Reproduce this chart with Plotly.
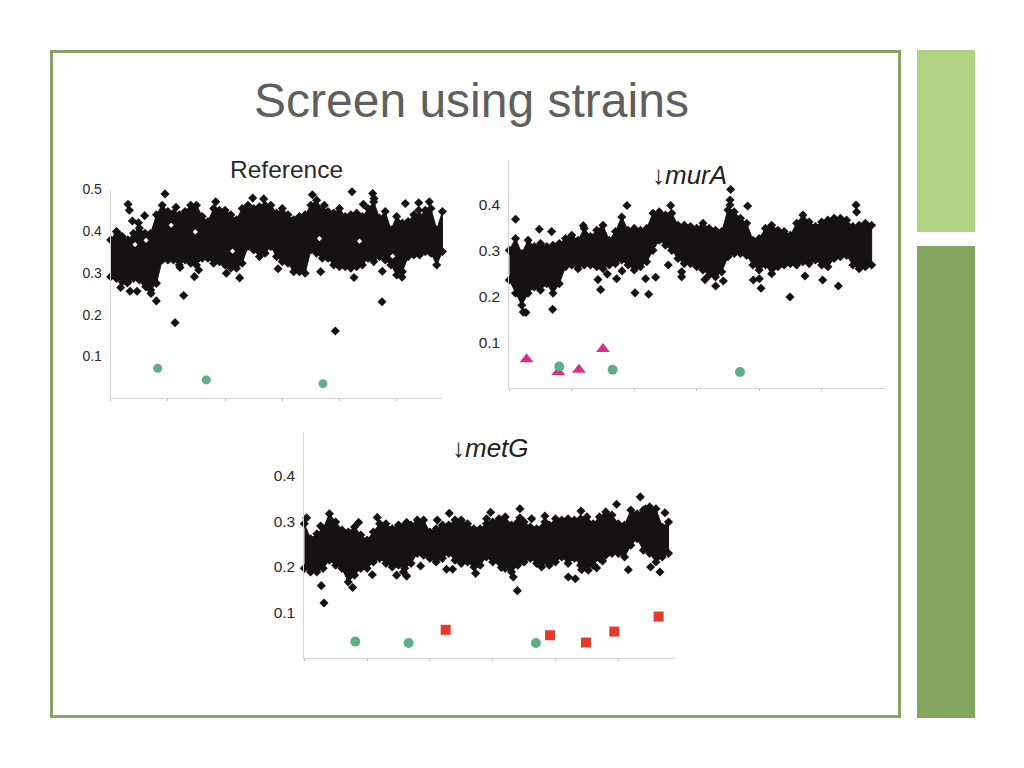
import plotly.graph_objects as go

W, H = 1024, 768

GRID = [0,100,200,300,400,500,600,700,800,900,1000,1100,1200,1300,1400,1500,1600,1700,1800,1900,
        2000,2100,2200,2300,2400,2500,2600,2700,2800,2900,3000,3100,3200,3300,3400,3500,3600,3700,3800,3900,
        4000,4100,4200,4300,4400,4500,4600,4700,4800,4900,5000,5100,5200,5300,5400,5500,5600,5700,5800]
XTICKS = [0,1000,2000,3000,4000,5000]

# Reference
ref_up = [.379,.399,.387,.379,.395,.407,.395,.395,.439,.462,.447,.443,.439,.447,.462,.462,.435,.423,.454,.45,
          .45,.439,.427,.454,.462,.454,.458,.462,.462,.443,.454,.439,.427,.435,.439,.462,.474,.45,.447,.443,
          .454,.435,.439,.443,.435,.454,.47,.431,.447,.403,.435,.419,.423,.439,.435,.45,.454,.403,.447]
ref_lo = [.291,.287,.279,.279,.287,.283,.275,.259,.275,.331,.331,.331,.319,.331,.323,.319,.335,.335,.323,.327,
          .319,.311,.311,.323,.363,.355,.339,.347,.363,.339,.327,.323,.303,.303,.299,.355,.347,.335,.335,.319,
          .315,.315,.311,.315,.319,.335,.327,.339,.331,.319,.295,.303,.339,.343,.343,.351,.347,.319,.351]
ref_out_x = [950,303,326,379,484,594,117,1142,1836,2483,2675,3526,4219,4580,4604,4417,3735,5152,5385,5385,5571,
             175,291,338,460,612,798,1125,1276,1463,1538,2022,2255,2925,3671,4254,3928,4744,4749,5093,705,1212]
ref_out_y = [.489,.464,.45,.424,.42,.437,.396,.457,.47,.479,.477,.487,.494,.49,.478,.464,.462,.466,.468,.45,.47,
             .265,.276,.256,.256,.267,.233,.181,.246,.291,.307,.299,.288,.31,.303,.289,.161,.231,.304,.29,.251,.313]
ref_hole_x = [618,425,1057,1480,2130,3650,4350,4930]
ref_hole_y = [.378,.368,.414,.398,.352,.382,.376,.340]
ref_green_x = [822,1672,3712]
ref_green_y = [.072,.044,.035]

# murA
mur_up = [.301,.327,.294,.323,.309,.316,.309,.312,.316,.327,.334,.323,.349,.331,.345,.356,.323,.342,.374,.345,
          .349,.345,.349,.382,.385,.378,.382,.356,.356,.353,.349,.36,.349,.345,.342,.389,.385,.371,.36,.323,
          .327,.349,.356,.345,.342,.334,.36,.378,.363,.353,.363,.367,.371,.371,.367,.353,.356,.36,.356]
mur_lo = [.236,.207,.181,.207,.221,.214,.228,.207,.228,.265,.269,.261,.269,.269,.265,.261,.269,.272,.28,.269,
          .258,.265,.276,.301,.323,.312,.301,.283,.272,.272,.265,.258,.247,.243,.254,.287,.294,.294,.29,.269,
          .258,.269,.25,.265,.269,.272,.269,.276,.272,.28,.269,.265,.283,.287,.29,.269,.261,.265,.269]
mur_out_x = [101,480,678,1185,1884,2583,3543,3533,3533,3815,5550,5560,224,267,694,1462,1419,2012,2231,2182,2343,
             2545,2759,2759,3303,3426,3132,3906,4002,4029,4493,5267,5016,4733,1569,1718,1804]
mur_out_y = [.369,.347,.342,.355,.399,.399,.434,.411,.4,.398,.4,.385,.166,.165,.172,.215,.237,.208,.205,.239,.242,
             .269,.254,.243,.223,.234,.237,.236,.239,.218,.199,.223,.236,.245,.249,.239,.256]
mur_tri_x = [277,784,1115,1499]
mur_tri_y = [.063,.035,.04,.085]
mur_green_x = [800,1654,3693]
mur_green_y = [.047,.04,.035]

# metG
met_up = [.295,.262,.273,.284,.317,.299,.281,.277,.288,.27,.259,.277,.295,.295,.284,.292,.292,.292,.303,.303,
          .277,.284,.292,.292,.303,.303,.295,.284,.284,.295,.299,.306,.31,.292,.299,.299,.288,.284,.288,.292,
          .306,.303,.306,.303,.306,.31,.295,.31,.321,.314,.295,.292,.325,.317,.325,.332,.328,.288,.299]
met_lo = [.197,.189,.189,.197,.215,.204,.197,.167,.182,.197,.197,.211,.219,.208,.2,.204,.197,.208,.23,.226,
          .219,.211,.219,.23,.215,.208,.211,.2,.204,.222,.211,.211,.197,.189,.204,.211,.219,.208,.211,.204,
          .211,.222,.208,.219,.204,.197,.204,.219,.226,.23,.23,.222,.248,.262,.237,.23,.211,.222,.23]
met_out_x = [37,260,865,1162,2309,2118,1630,2967,2903,3434,3434,3620,3832,3832,4406,4973,5350,5435,5743,271,313,
             770,1470,1630,1577,1852,2266,2362,2728,3137,3328,3392,3779,4204,4315,4416,4522,4655,4750,5159,5515,5663,1083]
met_out_y = [.308,.29,.298,.309,.318,.303,.298,.32,.306,.328,.308,.306,.312,.299,.323,.338,.354,.328,.319,.159,.121,
             .155,.182,.18,.189,.202,.195,.195,.186,.199,.178,.148,.2,.178,.174,.194,.193,.198,.213,.194,.2,.189,.183]
met_sq_x = [2251,3912,4485,4936,5642]
met_sq_y = [.062,.05,.034,.058,.091]
met_green_x = [812,1661,3689]
met_green_y = [.036,.033,.033]

TITLE = "Screen using strains"
NAMES = ["Reference", "↓<i>murA</i>", "↓<i>metG</i>"]
YT1 = [0.1,0.2,0.3,0.4,0.5]
YT2 = [0.1,0.2,0.3,0.4]

BLACK = "#141212"
GREEN = "#5fae86"
PINK = "#d5308c"
RED = "#e63b2a"
AXIS = "#d4d4d4"
FRAME = "#86a264"
LIGHT = "#b0d283"
DARK = "#84a55f"

fig = go.Figure()

def panel(n, up, lo, ox, oy, msize):
    xa, ya = f"x{n}", f"y{n}"
    fig.add_trace(go.Scatter(x=GRID + GRID[::-1], y=up + lo[::-1], mode="lines+markers", fill="toself",
                             fillcolor=BLACK, line=dict(color=BLACK, width=1),
                             marker=dict(symbol="diamond", size=msize, color=BLACK),
                             xaxis=xa, yaxis=ya, hoverinfo="skip", cliponaxis=False))
    fig.add_trace(go.Scatter(x=ox, y=oy, mode="markers",
                             marker=dict(symbol="diamond", size=msize, color=BLACK),
                             xaxis=xa, yaxis=ya, cliponaxis=False))

def special(n, x, y, sym, size, color):
    fig.add_trace(go.Scatter(x=x, y=y, mode="markers",
                             marker=dict(symbol=sym, size=size, color=color, line=dict(width=0)),
                             xaxis=f"x{n}", yaxis=f"y{n}", cliponaxis=False))

panel(1, ref_up, ref_lo, ref_out_x, ref_out_y, 7)
special(1, ref_hole_x, ref_hole_y, "diamond", 4, "white")
special(1, ref_green_x, ref_green_y, "circle", 9, GREEN)
panel(2, mur_up, mur_lo, mur_out_x, mur_out_y, 7)
special(2, mur_tri_x, mur_tri_y, "triangle-up", 12, PINK)
special(2, mur_green_x, mur_green_y, "circle", 10, GREEN)
panel(3, met_up, met_lo, met_out_x, met_out_y, 7)
special(3, met_green_x, met_green_y, "circle", 10, GREEN)
special(3, met_sq_x, met_sq_y, "square", 10, RED)

def axes(n, left, right, top, bottom, xmax, ymax, yt, fsize):
    fig.layout[f"xaxis{n if n > 1 else ''}"] = dict(
        domain=[left / W, right / W], range=[0, xmax], anchor=f"y{n}", showgrid=False, zeroline=False,
        automargin=False, showline=True, linecolor=AXIS, linewidth=1, tickvals=XTICKS,
        ticktext=[""] * len(XTICKS), ticks="outside", ticklen=2, tickcolor="#bbbbbb")
    fig.layout[f"yaxis{n if n > 1 else ''}"] = dict(
        domain=[1 - bottom / H, 1 - top / H], range=[0, ymax], anchor=f"x{n}", showgrid=False, zeroline=False,
        automargin=False, showline=True, linecolor=AXIS, linewidth=1, tickvals=yt,
        ticktext=[f"{v:.1f}" for v in yt], ticks="outside", ticklen=5, tickcolor="rgba(0,0,0,0)",
        tickfont=dict(family="Liberation Sans", size=fsize, color="#2a2a2a"))

axes(1, 110.7, 443, 189.3, 398.3, 5810, 0.5, YT1, 14)
axes(2, 509.3, 885, 160, 388, 6014, 0.4985, YT2, 15.5)
axes(3, 304.3, 675, 432, 658, 5903, 0.4966, YT2, 15.5)

def rect(x0, y0, x1, y1, **kw):
    return dict(type="rect", xref="paper", yref="paper", x0=x0 / W, x1=x1 / W,
                y0=1 - y0 / H, y1=1 - y1 / H, layer="below", **kw)

def label(text, x, y, size, color):
    return dict(text=text, x=x / W, y=1 - y / H, xref="paper", yref="paper", showarrow=False,
                xanchor="center", yanchor="middle",
                font=dict(family="Liberation Sans", size=size, color=color))

fig.update_layout(
    width=W, height=H, margin=dict(l=0, r=0, t=0, b=0), showlegend=False,
    paper_bgcolor="white", plot_bgcolor="rgba(0,0,0,0)",
    shapes=[
        rect(51.5, 51.5, 899.5, 716.5, line=dict(color=FRAME, width=3), fillcolor="white"),
        rect(917, 50, 975, 232, line=dict(width=0), fillcolor=LIGHT),
        rect(917, 246, 975, 718, line=dict(width=0), fillcolor=DARK),
    ],
    annotations=[
        label(TITLE, 471, 100, 48, "#5f5f5f"),
        label(NAMES[0], 286, 169, 24.5, "#2a2a2a"),
        label(NAMES[1], 689, 175, 26, "#222222"),
        label(NAMES[2], 490, 448, 26, "#222222"),
    ],
)

fig.write_html("out.html", config={"displayModeBar": False},
               post_script="document.body.style.margin='0';document.documentElement.style.overflow='hidden';")
